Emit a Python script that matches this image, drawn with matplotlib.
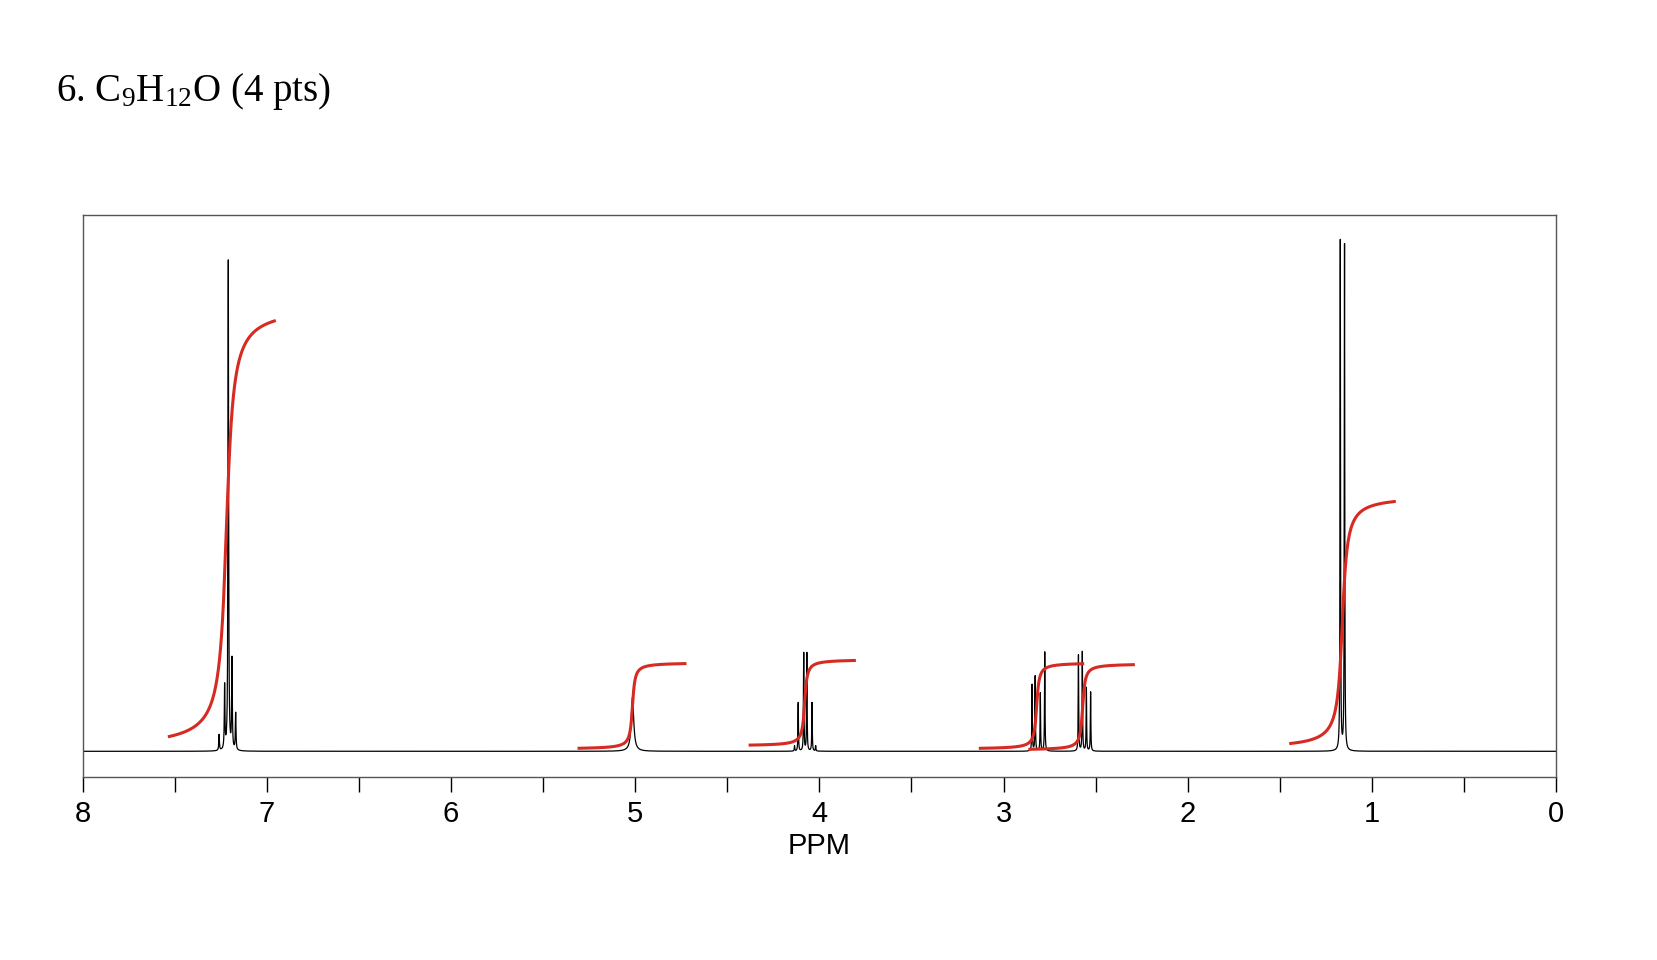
import numpy as np
import matplotlib.pyplot as plt

plt.rcParams["mathtext.fontset"] = "custom"
plt.rcParams["mathtext.rm"] = "Liberation Serif"
plt.rcParams["mathtext.it"] = "Liberation Serif"

# Peak list: (ppm, height, half-width) -- heights in arbitrary units relative to baseline
peak_ppm = [7.26, 7.23, 7.21, 7.19, 7.17,
            5.015,
            4.115, 4.085, 4.068, 4.04, 4.135, 4.02,
            2.845, 2.828, 2.80, 2.776,
            2.593, 2.572, 2.55, 2.527,
            1.171, 1.148]
peak_height = [15, 60, 464, 85, 35,
               51,
               46, 93, 93, 46, 5, 5,
               63, 71, 55, 94,
               91, 94, 60, 56,
               483, 479]
peak_width = [0.002] * 5 + [0.008] + [0.0015] * 6 + [0.0015] * 8 + [0.0015] * 2

# Integral curves: start ppm, end ppm, centre, low, step height, width
int_start = [7.53, 5.305, 4.376, 3.126, 2.857, 1.44]
int_end = [6.96, 4.73, 3.81, 2.57, 2.295, 0.878]
int_center = [7.22, 5.015, 4.08, 2.82, 2.57, 1.16]
int_low = [2, 2, 5, 2, 1, 2]
int_height = [420, 82, 82, 82, 82, 240]
int_w = [0.028, 0.01, 0.01, 0.01, 0.01, 0.02]

x = np.linspace(0, 8, 80000)
y = np.zeros_like(x)
for p, h, w in zip(peak_ppm, peak_height, peak_width):
    y += h * w**2 / ((x - p)**2 + w**2)

fig = plt.figure(figsize=(16.57, 9.6), dpi=100)
ax = fig.add_axes([0.050, 0.191, 0.889, 0.585])
ax.plot(x, y, color="black", lw=0.9)

for s, e, c, lo, h, w in zip(int_start, int_end, int_center, int_low, int_height, int_w):
    xi = np.linspace(e, s, 400)
    yi = lo + h * (0.5 + np.arctan((c - xi) / w) / np.pi)
    ax.plot(xi, yi, color="#d62a22", lw=2.2)

ax.set_xlim(8, 0)
ax.set_ylim(-24, 508)
ax.set_yticks([])
ax.set_xticks(range(0, 9))
ax.set_xticks(np.arange(0.5, 8, 1.0), minor=True)
ax.tick_params(axis="x", which="both", direction="out", length=11, width=1, labelsize=21, pad=6)
for lab in ax.get_xticklabels():
    lab.set_family("Liberation Sans")
ax.set_xlabel("PPM", fontsize=21, family="Liberation Sans", labelpad=3)
for sp in ax.spines.values():
    sp.set_color("#555555")
    sp.set_linewidth(1)

fig.text(0.034, 0.905, r"6. C$_{\rm 9}$H$_{\rm 12}$O (4 pts)", fontsize=28, family="Liberation Serif",
         va="center", ha="left")
fig.savefig("out.png", dpi=100)
